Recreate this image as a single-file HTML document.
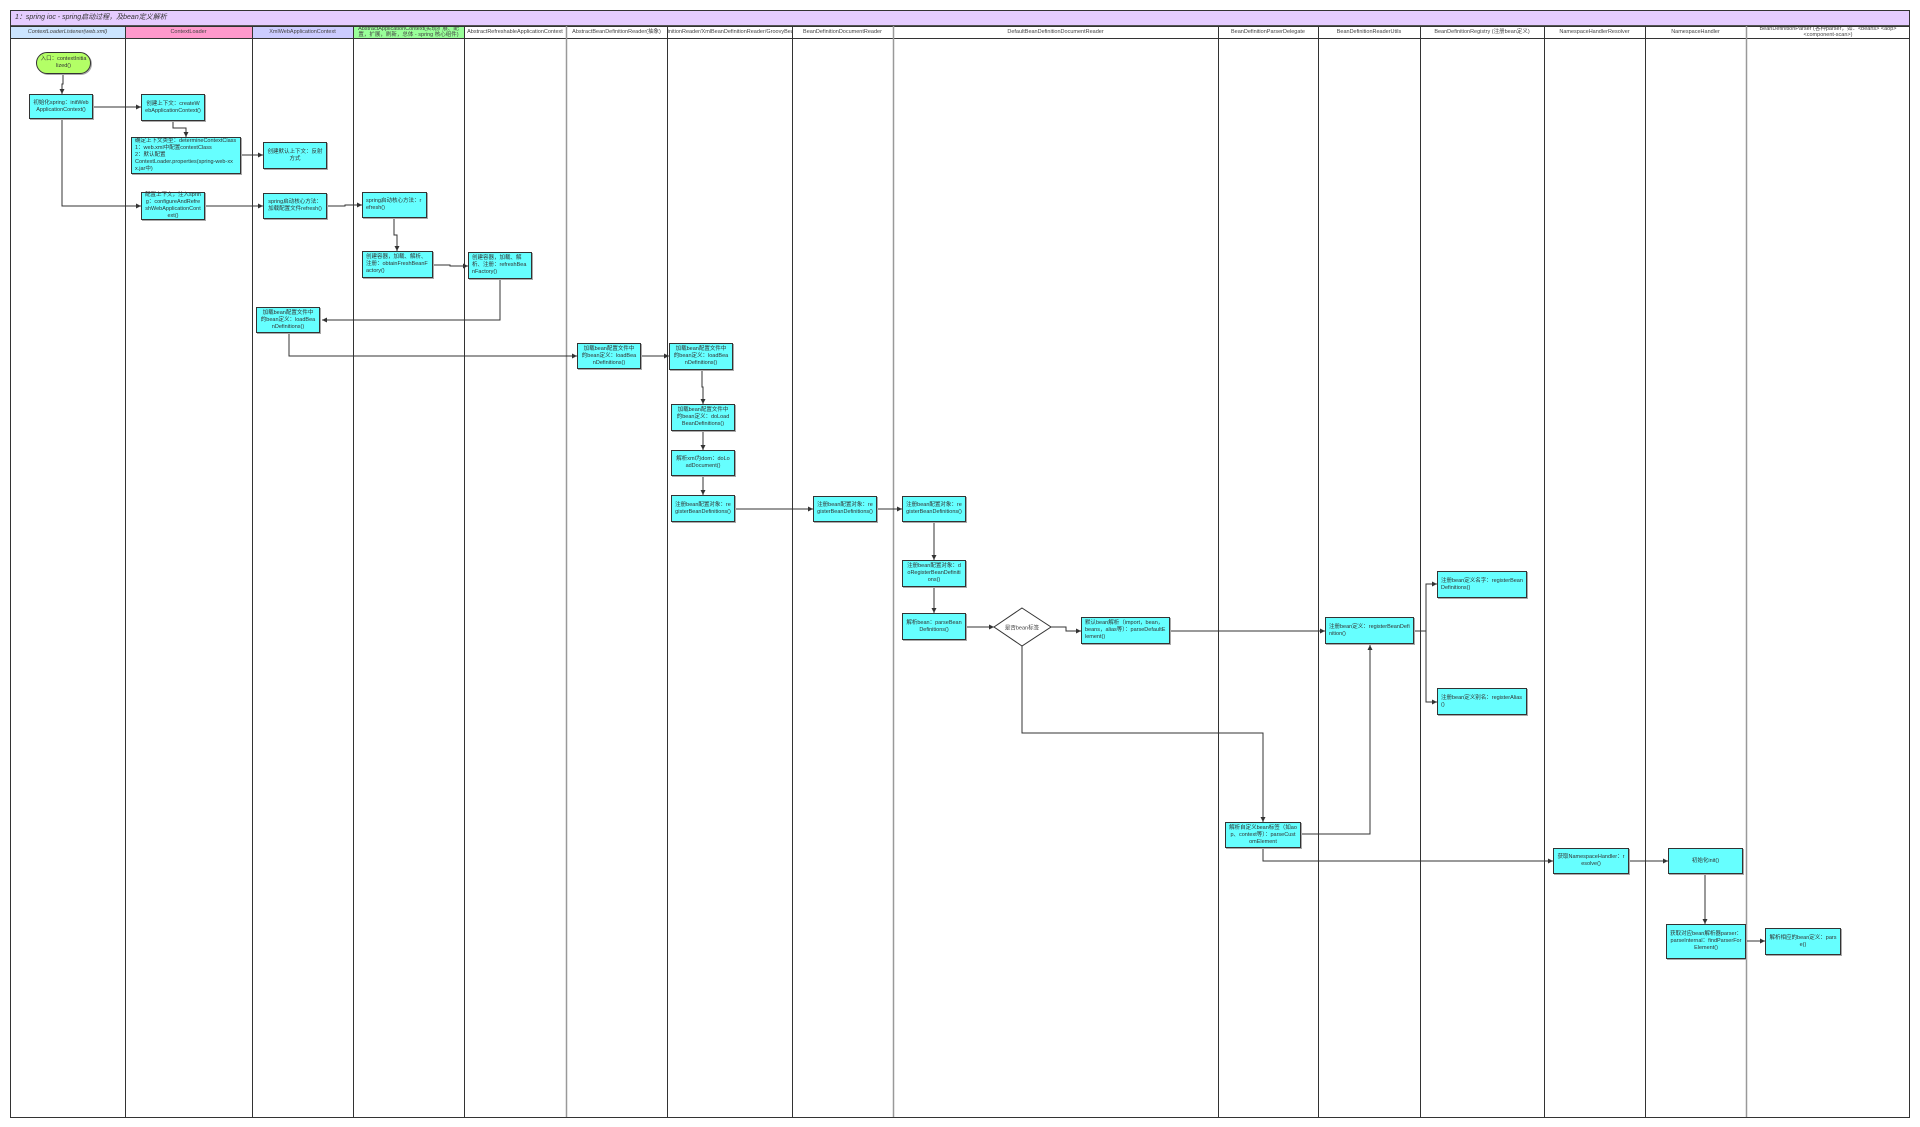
<!DOCTYPE html>
<html><head><meta charset="utf-8"><style>
body{margin:0;width:1920px;height:1127px;background:#fff;position:relative;overflow:hidden;font-family:"Liberation Sans","Noto Sans CJK SC",sans-serif;}
.hd{position:absolute;top:26px;height:12px;font-size:5.5px;color:#444;text-align:center;line-height:6px;overflow:hidden;display:flex;align-items:center;justify-content:center;}
.b{position:absolute;background:#66ffff;border:1px solid #333;box-sizing:border-box;font-size:5.5px;line-height:7px;color:#333;display:flex;align-items:center;justify-content:center;text-align:center;padding:1px 3px;box-shadow:1px 1px 0 #aaa;word-break:break-all;}
.l{text-align:left;justify-content:flex-start;}
</style></head><body>
<div style="position:absolute;left:10px;top:10px;width:1900px;height:16px;background:#e5ccff;border:1px solid #555;box-sizing:border-box;font-size:7px;font-style:italic;color:#333;line-height:14px;padding-left:4px;">1：spring ioc - spring启动过程，及bean定义解析</div>
<div class="hd" style="left:10px;width:115px;background:#cce5ff;font-style:italic">ContextLoaderListener(web.xml)</div>
<div class="hd" style="left:125px;width:127px;background:#ff99cc">ContextLoader</div>
<div class="hd" style="left:252px;width:101px;background:#ccccff">XmlWebApplicationContext</div>
<div class="hd" style="left:353px;width:111px;background:#99ff99">AbstractApplicationContext(实现扩展、配置，扩展，刷新，总体 - spring 核心组件)</div>
<div class="hd" style="left:464px;width:102px">AbstractRefreshableApplicationContext</div>
<div class="hd" style="left:566px;width:101px">AbstractBeanDefinitionReader(抽象)</div>
<div class="hd" style="left:667px;width:125px">PropertiesBeanDefinitionReader/XmlBeanDefinitionReader/GroovyBeanDefinitionReader</div>
<div class="hd" style="left:792px;width:101px">BeanDefinitionDocumentReader</div>
<div class="hd" style="left:893px;width:325px">DefaultBeanDefinitionDocumentReader</div>
<div class="hd" style="left:1218px;width:100px">BeanDefinitionParserDelegate</div>
<div class="hd" style="left:1318px;width:102px">BeanDefinitionReaderUtils</div>
<div class="hd" style="left:1420px;width:124px">BeanDefinitionRegistry (注册bean定义)</div>
<div class="hd" style="left:1544px;width:101px">NamespaceHandlerResolver</div>
<div class="hd" style="left:1645px;width:101px">NamespaceHandler</div>
<div class="hd" style="left:1746px;width:164px">BeanDefinitionParser (各种parser，如：&lt;beans&gt; &lt;aop&gt; &lt;component-scan&gt;)</div>
<svg width="1920" height="1127" style="position:absolute;left:0;top:0" xmlns="http://www.w3.org/2000/svg">
<defs><marker id="a" markerWidth="6" markerHeight="6" refX="5" refY="3" orient="auto" markerUnits="userSpaceOnUse"><path d="M0,0.5 L5,3 L0,5.5z" fill="#333"/></marker></defs>
<g stroke="#333" stroke-width="1" fill="none">
<rect x="10.5" y="10.5" width="1899" height="1107"/>
<line x1="10" y1="26.5" x2="1910" y2="26.5"/>
<line x1="10" y1="38.5" x2="1910" y2="38.5"/>
<path d="M125.5 26V1117M252.5 26V1117M353.5 26V1117M464.5 26V1117M667.5 26V1117M792.5 26V1117M1218.5 26V1117M1318.5 26V1117M1420.5 26V1117M1544.5 26V1117M1645.5 26V1117"/>
<path d="M566.5 26V1117M893.5 26V1117M1746.5 26V1117" stroke="#999" stroke-width="1.5"/>
</g>
<g stroke="#333" stroke-width="1" fill="none" marker-end="url(#a)">
<path d="M63 74V84H62V94"/>
<path d="M93 107H141"/>
<path d="M173 121V128H186V137"/>
<path d="M241 155H263"/>
<path d="M62 119V206H141"/>
<path d="M205 206H263"/>
<path d="M327 206H345V205H362"/>
<path d="M394 218V235H397V251"/>
<path d="M433 265H450V266H468"/>
<path d="M500 279V320H322"/>
<path d="M289 333V356H577"/>
<path d="M641 356H669"/>
<path d="M702 370V387H703V404"/>
<path d="M703 431V450"/>
<path d="M703 476V495"/>
<path d="M735 509H813"/>
<path d="M877 509H902"/>
<path d="M934 522V560"/>
<path d="M934 587V613"/>
<path d="M966 627H994"/>
<path d="M1051 627H1066V631H1081"/>
<path d="M1170 631H1325"/>
<path d="M1022 646V733H1263V822"/>
<path d="M1301 834H1370V645"/>
<path d="M1414 631H1426V584H1437"/>
<path d="M1426 631V702H1437"/>
<path d="M1263 848V861H1553"/>
<path d="M1629 861H1668"/>
<path d="M1705 874V924"/>
<path d="M1746 941H1765"/>
</g>
<polygon points="1022,608 1051,627 1022,646 994,627" fill="#fff" stroke="#333"/>
<text x="1022" y="629.5" font-size="5.5" text-anchor="middle" fill="#444" font-family="Liberation Sans, Noto Sans CJK SC, sans-serif">是否bean标签</text>
</svg>
<div class="b" style="left:36px;top:52px;width:55px;height:22px;background:#b3ff66;border-radius:11px">入口：contextInitialized()</div>
<div class="b" style="left:29px;top:94px;width:64px;height:25px">初始化spring：initWebApplicationContext()</div>
<div class="b" style="left:141px;top:94px;width:64px;height:27px">创建上下文：createWebApplicationContext()</div>
<div class="b l" style="left:131px;top:137px;width:110px;height:37px">确定上下文类型：determineContextClass<br>1：web.xml中配置contextClass<br>2：默认配置<br>ContextLoader.properties(spring-web-xxx.jar中)</div>
<div class="b" style="left:263px;top:142px;width:64px;height:27px">创建默认上下文：反射方式</div>
<div class="b" style="left:141px;top:192px;width:64px;height:28px">配置上下文，注入spring：configureAndRefreshWebApplicationContext()</div>
<div class="b" style="left:263px;top:193px;width:64px;height:26px">spring启动核心方法：加载配置文件refresh()</div>
<div class="b l" style="left:362px;top:192px;width:65px;height:26px">spring启动核心方法：refresh()</div>
<div class="b l" style="left:362px;top:251px;width:71px;height:27px">创建容器，加载、解析、注册：obtainFreshBeanFactory()</div>
<div class="b l" style="left:468px;top:252px;width:64px;height:27px">创建容器，加载、解析、注册：refreshBeanFactory()</div>
<div class="b" style="left:256px;top:307px;width:64px;height:26px">加载bean配置文件中的bean定义：loadBeanDefinitions()</div>
<div class="b" style="left:577px;top:343px;width:64px;height:26px">加载bean配置文件中的bean定义：loadBeanDefinitions()</div>
<div class="b" style="left:669px;top:343px;width:64px;height:27px">加载bean配置文件中的bean定义：loadBeanDefinitions()</div>
<div class="b" style="left:671px;top:404px;width:64px;height:27px">加载bean配置文件中的bean定义：doLoadBeanDefinitions()</div>
<div class="b" style="left:671px;top:450px;width:64px;height:26px">解析xml为dom：doLoadDocument()</div>
<div class="b" style="left:671px;top:495px;width:64px;height:27px">注册bean配置对象：registerBeanDefinitions()</div>
<div class="b" style="left:813px;top:496px;width:64px;height:26px">注册bean配置对象：registerBeanDefinitions()</div>
<div class="b" style="left:902px;top:496px;width:64px;height:26px">注册bean配置对象：registerBeanDefinitions()</div>
<div class="b" style="left:902px;top:560px;width:64px;height:27px">注册bean配置对象：doRegisterBeanDefinitions()</div>
<div class="b" style="left:902px;top:613px;width:64px;height:27px">解析bean：parseBeanDefinitions()</div>
<div class="b l" style="left:1081px;top:617px;width:89px;height:27px">默认bean解析（import，bean，beans，alias等）：parseDefaultElement()</div>
<div class="b l" style="left:1325px;top:617px;width:89px;height:27px">注册bean定义：registerBeanDefinition()</div>
<div class="b l" style="left:1437px;top:571px;width:90px;height:27px">注册bean定义名字：registerBeanDefinitions()</div>
<div class="b l" style="left:1437px;top:688px;width:90px;height:27px">注册bean定义别名：registerAlias()</div>
<div class="b" style="left:1225px;top:822px;width:76px;height:26px">解析自定义bean标签（如aop、context等）：parseCustomElement</div>
<div class="b" style="left:1553px;top:848px;width:76px;height:26px">获取NamespaceHandler：resolve()</div>
<div class="b" style="left:1668px;top:848px;width:75px;height:26px">初始化init()</div>
<div class="b" style="left:1666px;top:924px;width:80px;height:35px">获取对应bean解析器parser：parseInternal：findParserForElement()</div>
<div class="b" style="left:1765px;top:928px;width:76px;height:27px">解析相应的bean定义：parse()</div>
</body></html>
